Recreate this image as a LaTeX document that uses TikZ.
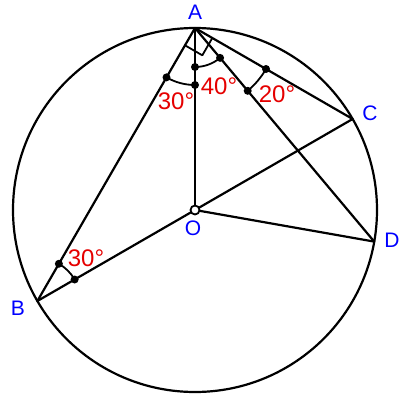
\documentclass[tikz,border=0pt]{standalone}
\usepackage{fontspec}
\setmainfont{Liberation Sans}
\usetikzlibrary{calc}
\begin{document}
\begin{tikzpicture}[x=1pt,y=1pt,
  ln/.style={line width=2.2pt, line cap=round, line join=round},
  thin ln/.style={line width=1.8pt, line cap=round, line join=round},
  dot/.style={circle, fill=black, inner sep=0pt, minimum size=8pt},
  ptlabel/.style={text=blue, font=\fontsize{21}{21}\selectfont},
  anglabel/.style={text=red!90!black, font=\fontsize{24}{24}\selectfont}]
\useasboundingbox (0,0) rectangle (409,400);
\def\R{182}
\coordinate (O) at (195,190);
\coordinate (A) at ($(O)+(90:\R)$);
\coordinate (B) at ($(O)+(210:\R)$);
\coordinate (C) at ($(O)+(30:\R)$);
\coordinate (D) at ($(O)+(-10:\R)$);
\draw[ln] (O) circle (\R);
\draw[ln] (A) -- (B);
\draw[ln] (A) -- (O);
\draw[ln] (A) -- (C);
\draw[ln] (A) -- (D);
\draw[ln] (B) -- (C);
\draw[ln] (O) -- (D);
% right angle mark at A
\draw[thin ln] ($(A)+(240:20)$) -- ($(A)+(240:20)+(330:20)$) -- ($(A)+(330:20)$);
% angle arcs at A
\draw[thin ln] ($(A)+(240:57)$) arc[start angle=240, end angle=270, radius=57];
\node[dot] (a1) at ($(A)+(240:57)$) {};
\node[dot] (a2) at ($(A)+(270:57)$) {};
\draw[thin ln] ($(A)+(270:39)$) arc[start angle=270, end angle=310, radius=39];
\node[dot] (a3) at ($(A)+(270:39)$) {};
\node[dot] (a4) at ($(A)+(310:39)$) {};
\draw[thin ln] ($(A)+(310:82)$) arc[start angle=310, end angle=330, radius=82];
\node[dot] (a5) at ($(A)+(310:82)$) {};
\node[dot] (a6) at ($(A)+(330:82)$) {};
% angle arc at B
\draw[thin ln] ($(B)+(30:43)$) arc[start angle=30, end angle=60, radius=43];
\node[dot] (b1) at ($(B)+(30:43)$) {};
\node[dot] (b2) at ($(B)+(60:43)$) {};
% centre
\node[circle, draw=black, fill=white, line width=1.8pt, inner sep=0pt, minimum size=9pt] (o) at (O) {};
% labels
\node[ptlabel] (lA) at (195,388) {A};
\node[ptlabel] (lB) at (18,92) {B};
\node[ptlabel] (lC) at (370,287) {C};
\node[ptlabel] (lD) at (392,160) {D};
\node[ptlabel] (lO) at (193,172) {O};
\node[anglabel] (t1) at (176,299) {30°};
\node[anglabel] (t2) at (219,314) {40°};
\node[anglabel] (t3) at (277,306) {20°};
\node[anglabel] (t4) at (86,142) {30°};
\end{tikzpicture}
\end{document}
